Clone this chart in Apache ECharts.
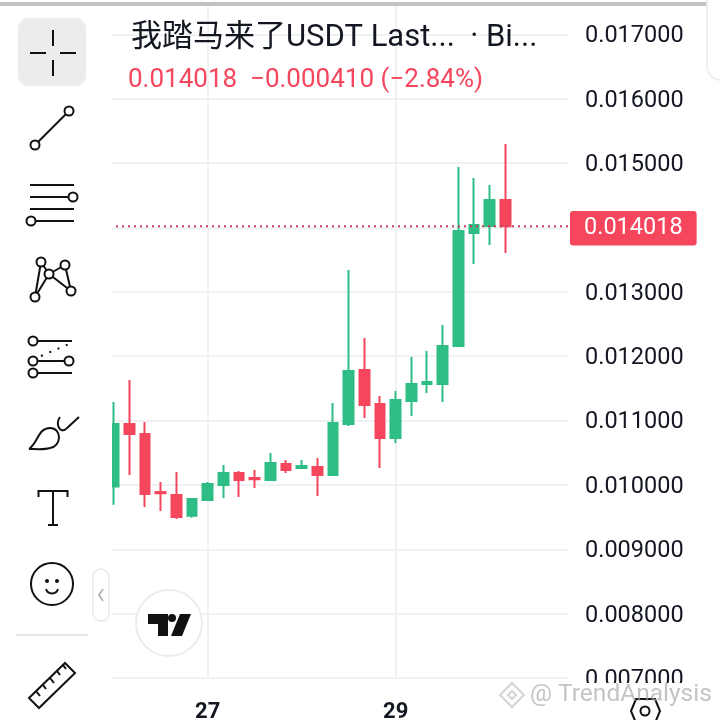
<!DOCTYPE html>
<html><head><meta charset="utf-8">
<style>html,body{margin:0;padding:0;background:#fff}#c{width:720px;height:720px}</style>
<script src="https://cdn.jsdelivr.net/npm/echarts@6/dist/echarts.min.js"></script>
</head><body><div id="c"></div>
<script>
const categories=['','','','','','','','27','','','','','','','','','','','','29','','','','','','','','','','',''];
const opens =[null,0.009974,0.010947,0.010792,0.009890,0.009845,0.009519,0.009767,0.010000,0.010186,0.010109,0.010078,0.010326,0.010264,0.010280,0.010155,0.010947,0.011786,0.011258,0.010730,0.011304,0.011568,0.011568,0.012158,0.013913,0.014022,0.014425,null,null,null,null];
const closes=[null,0.010947,0.010792,0.009860,0.009870,0.009503,0.009783,0.010016,0.010186,0.010078,0.010088,0.010342,0.010233,0.010295,0.010155,0.010963,0.011770,0.011242,0.010730,0.011320,0.011568,0.011599,0.012158,0.013944,0.014037,0.014425,0.014018,null,null,null,null];
const lows  =[null,0.009690,0.010155,0.009658,0.009596,0.009472,0.009488,0.009767,0.009798,0.009814,0.009953,0.010078,0.010186,0.010264,0.009829,0.010155,0.010916,0.011040,0.010264,0.010652,0.011071,0.011429,0.011289,0.012158,0.013432,0.013727,0.013602,null,null,null,null];
const highs =[null,0.011289,0.011630,0.010978,0.010047,0.010202,0.009798,0.010047,0.010311,0.010217,0.010233,0.010497,0.010388,0.010388,0.010419,0.011273,0.013339,0.012283,0.011382,0.011460,0.011988,0.012081,0.012484,0.014938,0.014767,0.014658,0.015295,null,null,null,null];
const lastPrice=0.014018;
const titleText='我踏马来了USDT Last...  · Bi...';
const quoteText='0.014018  −0.000410 (−2.84%)';
const watermark='@ TrendAnalysis';
const UP='#2EBD85',DOWN='#F6465D',F='Roboto, "Noto Sans CJK SC", sans-serif';
const ohlc=opens.map((o,i)=>o==null?['-','-','-','-']:[o,closes[i],lows[i],highs[i]]);
const S={stroke:'#111',fill:'none',lineWidth:2};
const O={stroke:'#111',fill:'#fff',lineWidth:2};
const line=(x1,y1,x2,y2,w)=>({type:'line',shape:{x1,y1,x2,y2},style:{stroke:'#111',lineWidth:w||2},z:102});
const ring=(cx,cy,r)=>({type:'circle',shape:{cx,cy,r:r||4.5},style:O,z:103});
const bez=(x1,y1,cpx1,cpy1,cpx2,cpy2,x2,y2)=>({type:'bezierCurve',shape:{x1,y1,cpx1,cpy1,cpx2,cpy2,x2,y2},style:S,z:102});
const poly=(pts)=>({type:'polyline',shape:{points:pts},style:S,z:102});
const text=(x,y,t,size,color,extra)=>({type:'text',x,y,style:Object.assign({text:t,fontSize:size,fontFamily:F,fill:color,verticalAlign:'middle'},extra||{}),z:110});
const diamond=(cx,cy,r)=>({type:'polygon',shape:{points:[[cx,cy-r],[cx+r,cy],[cx,cy+r],[cx-r,cy]]},style:{fill:'none',stroke:'#d4d4d4',lineWidth:2},z:109});
const chrome=[
 {type:'rect',shape:{x:0,y:0,width:112,height:720},style:{fill:'#fff'},z:100},
 {type:'rect',shape:{x:0,y:683,width:720,height:37},style:{fill:'#fff'},z:99},
 {type:'rect',shape:{x:0,y:0,width:720,height:6},style:{fill:'#fff'},z:99},
 {type:'rect',shape:{x:0,y:2,width:720,height:4},style:{fill:'#c2c3c5'},z:100},
 {type:'rect',shape:{x:707,y:-20,width:40,height:100,r:14},style:{fill:'#fff',stroke:'#ececec',lineWidth:1.5},z:101},
 {type:'rect',shape:{x:18,y:18,width:68,height:68,r:10},style:{fill:'#ececec'},z:101},
 line(53,30,53,46),line(53,60,53,76),line(30,53,46,53),line(60,53,76,53),
 line(35,145,69,111),ring(35,145),ring(69,111),
 line(30,185,74,185),line(30,197,70,197),line(30,209,74,209),line(34,221,74,221),ring(73,197),ring(31,221),
 line(41,262,35,297),line(41,262,49,274),line(35,297,49,274),line(49,274,65,265),line(65,265,71,291),line(49,274,71,291),
 ring(41,262),ring(65,265),ring(49,274),ring(35,297),ring(71,291),
 line(33,341,72,341),line(33,361,69,361),line(33,373,72,373),
 {type:'line',shape:{x1:41,y1:356,x2:69,y2:344},style:{stroke:'#111',lineWidth:2,lineDash:[2,7]},z:102},
 ring(33,341),ring(33,361),ring(33,373),ring(69,361),
 bez(29,449,38,443,38,428,50,428),bez(50,428,62,428,62,446,50,448),bez(50,448,44,450,36,449,29,449),
 bez(60,417,55,424,60,434,66,429),line(66,429,79,417),
 poly([[38.5,497],[38.5,491],[67.5,491],[67.5,497]]),line(53,491,53,525),line(48,525,58,525),
 {type:'circle',shape:{cx:52,cy:584,r:21},style:S,z:102},
 {type:'circle',shape:{cx:47,cy:581,r:2},style:{fill:'#111'},z:102},{type:'circle',shape:{cx:57,cy:581,r:2},style:{fill:'#111'},z:102},
 bez(46,589,48,595,56,595,58,589),
 {type:'line',shape:{x1:16,y1:635,x2:88,y2:635},style:{stroke:'#e6e6e6',lineWidth:2},z:102},
 {type:'polygon',shape:{points:[[29,698],[65,663],[75,673],[39,708]]},style:S,z:102},
 line(36,691,40,696),line(43,685,46,689),line(50,678,54,683),line(57,671,60,675),line(63,665,66,669),
 {type:'rect',shape:{x:93,y:569,width:16,height:52,r:8},style:{fill:'#fff',stroke:'#e8e8e8',lineWidth:1.5},z:103},
 {type:'polyline',shape:{points:[[103,589],[99,595],[103,601]]},style:{stroke:'#aaa',fill:'none',lineWidth:1.5},z:104},
 {type:'circle',shape:{cx:169,cy:623,r:33},style:{fill:'#fff',stroke:'#ececec',lineWidth:2},z:20},
 {type:'polygon',shape:{points:[[148,614],[168,614],[168,636],[158,636],[158,624],[148,624]]},style:{fill:'#111'},z:21},
 {type:'circle',shape:{cx:172,cy:618,r:4},style:{fill:'#111'},z:21},
 {type:'polygon',shape:{points:[[180,614],[191,614],[182,636],[171,636]]},style:{fill:'#111'},z:21},
 text(131,38,titleText,31,'#131722'),
 text(128,80,quoteText,26,'#F6465D'),
 {type:'polygon',shape:{points:[[636,699],[655,699],[660,711],[655,723],[636,723],[631,711]]},style:S,z:105},
 {type:'circle',shape:{cx:645,cy:711,r:4.5},style:S,z:106},
 diamond(512,695,12),diamond(512,695,4),
 text(530,695,watermark,24.5,'rgba(165,165,165,.65)')
];
const chart=echarts.init(document.getElementById('c'),null,{renderer:'canvas'});
chart.setOption({
 animation:false,
 grid:{left:98,right:152,top:-30,bottom:42,outerBoundsMode:'none'},
 xAxis:[
  {type:'category',data:categories,boundaryGap:false,position:'bottom',
   axisLine:{show:false},axisTick:{show:false},axisLabel:{show:false},
   splitLine:{show:true,interval:(i,v)=>v!=='',lineStyle:{color:'#f0f1f2',width:2}}},
  {type:'category',data:categories,boundaryGap:false,position:'bottom',z:120,
   axisLine:{show:false},axisTick:{show:false},splitLine:{show:false},
   axisLabel:{interval:0,color:'#131722',fontFamily:F,fontWeight:'bold',fontSize:22,margin:23}}
 ],
 yAxis:{type:'value',position:'right',min:0.007,max:0.018,interval:0.001,
  axisLine:{show:false},axisTick:{show:false},
  axisLabel:{margin:17,formatter:v=>'{p|'+v.toFixed(6)+'}',
   rich:{p:{color:'#131722',fontFamily:F,fontSize:23.5,padding:[4,0,0,0]}}},
  splitLine:{lineStyle:{color:'#f0f1f2',width:2}}},
 series:[
  {type:'candlestick',xAxisIndex:0,data:ohlc,barWidth:10,clip:false,
   itemStyle:{color:UP,color0:DOWN,borderColor:UP,borderColor0:DOWN,borderWidth:2}},
  {type:'line',xAxisIndex:0,data:categories.map(()=>lastPrice),symbol:'none',silent:true,
   lineStyle:{color:'#c8405a',type:[2,4],width:2},
   endLabel:{show:true,distance:2,offset:[0,2],formatter:()=>lastPrice.toFixed(6),color:'#fff',fontFamily:F,fontSize:23.5,backgroundColor:DOWN,padding:[6,14,5,14],borderRadius:3}}
 ],
 graphic:chrome
});
</script></body></html>
